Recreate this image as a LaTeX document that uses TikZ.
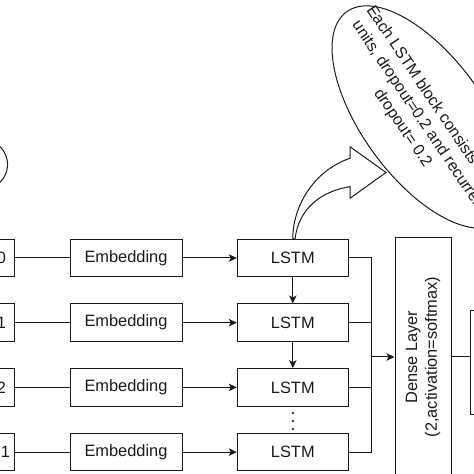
\documentclass[tikz,border=0pt]{standalone}
\usepackage{fontspec}
\setmainfont{Liberation Sans}
\usetikzlibrary{arrows.meta,shapes.geometric}
\definecolor{ln}{HTML}{1A1A1A}
\begin{document}
\begin{tikzpicture}[x=1pt,y=1pt,
  every node/.style={font=\fontsize{16.4}{19.7}\selectfont, text=ln},
  box/.style={draw=ln, line width=1pt, minimum height=37.5pt, inner sep=0pt},
  emb/.style={box, minimum width=112pt},
  lstm/.style={box, minimum width=111pt},
  inbox/.style={box, anchor=east, text width=45pt, align=right, inner xsep=8.5pt},
  con/.style={draw=ln, line width=1pt},
  arr/.style={con, -{Stealth[length=8pt,width=7.5pt,inset=2pt]}}]
\useasboundingbox (0,0) rectangle (474,474);
\begin{scope}
\clip (0,0) rectangle (474,474);
% left circle fragment
\draw[con] (-17,309.5) circle[radius=24.6];
% input boxes
\node[inbox] (in0) at (15,216) {x0};
\node[inbox] (in1) at (15,151.3) {x1};
\node[inbox] (in2) at (15,86.6) {x2};
\node[inbox, inner xsep=4.5pt, text width=49pt] (in3) at (15,21.9) {xn-1};
% embedding
\node[emb] (e0) at (126,216) {Embedding};
\node[emb] (e1) at (126,151.3) {Embedding};
\node[emb] (e2) at (126,86.6) {Embedding};
\node[emb] (e3) at (126,21.9) {Embedding};
% lstm
\node[lstm] (l0) at (292.8,216) {LSTM};
\node[lstm] (l1) at (292.8,151.3) {LSTM};
\node[lstm] (l2) at (292.8,86.6) {LSTM};
\node[lstm] (l3) at (292.8,21.9) {LSTM};
% dense
\node[box, minimum width=56pt, minimum height=238pt] (dense) at (423,117) {};
\node[rotate=90, align=center] (dtxt) at (423,117) {Dense Layer\\(2,activation=softmax)};
% right box
\node[box, minimum width=60pt, minimum height=104pt, anchor=west] (out) at (469.5,111) {};
% connectors
\foreach \i in {0,1,2,3} {
  \draw[con] (in\i.east) -- (e\i.west);
  \draw[arr] (e\i.east) -- (l\i.west);
}
\draw[arr] (l0.south) -- (l1.north);
\draw[arr] (l1.south) -- (l2.north);
\foreach \yy in {61,53,45} \fill[ln] (292.8,\yy) circle[radius=1.2pt];
\coordinate (bus) at (371.7,0);
\draw[con] (l0.east) -| (bus |- l3.east) -- (l3.east);
\draw[con] (l1.east) -- (bus |- l1.east);
\draw[con] (l2.east) -- (bus |- l2.east);
\draw[arr] (bus |- dense.west) -- (dense.west);
\draw[con] (dense.east) -- (dense.east -| out.west);
% curved hollow arrow
\draw[con, line join=miter] (l0.north) .. controls (292.7,269) and (315,304) .. (350,315.7)
  -- (350,327.3) -- (386,301.5) -- (350,275.7) -- (350,287.3)
  .. controls (322,283) and (298.5,266) .. (295,234.75) -- cycle;
% ellipse callout
\draw[con] (423,357) ellipse[x radius=130, y radius=61, rotate=-54];
\node[rotate=-56, align=center, font=\fontsize{16}{20}\selectfont] (note) at (419,357)
  {Each LSTM block consists of 100\\units, dropout=0.2 and recurrent\\dropout= 0.2};
\end{scope}
\end{tikzpicture}
\end{document}
